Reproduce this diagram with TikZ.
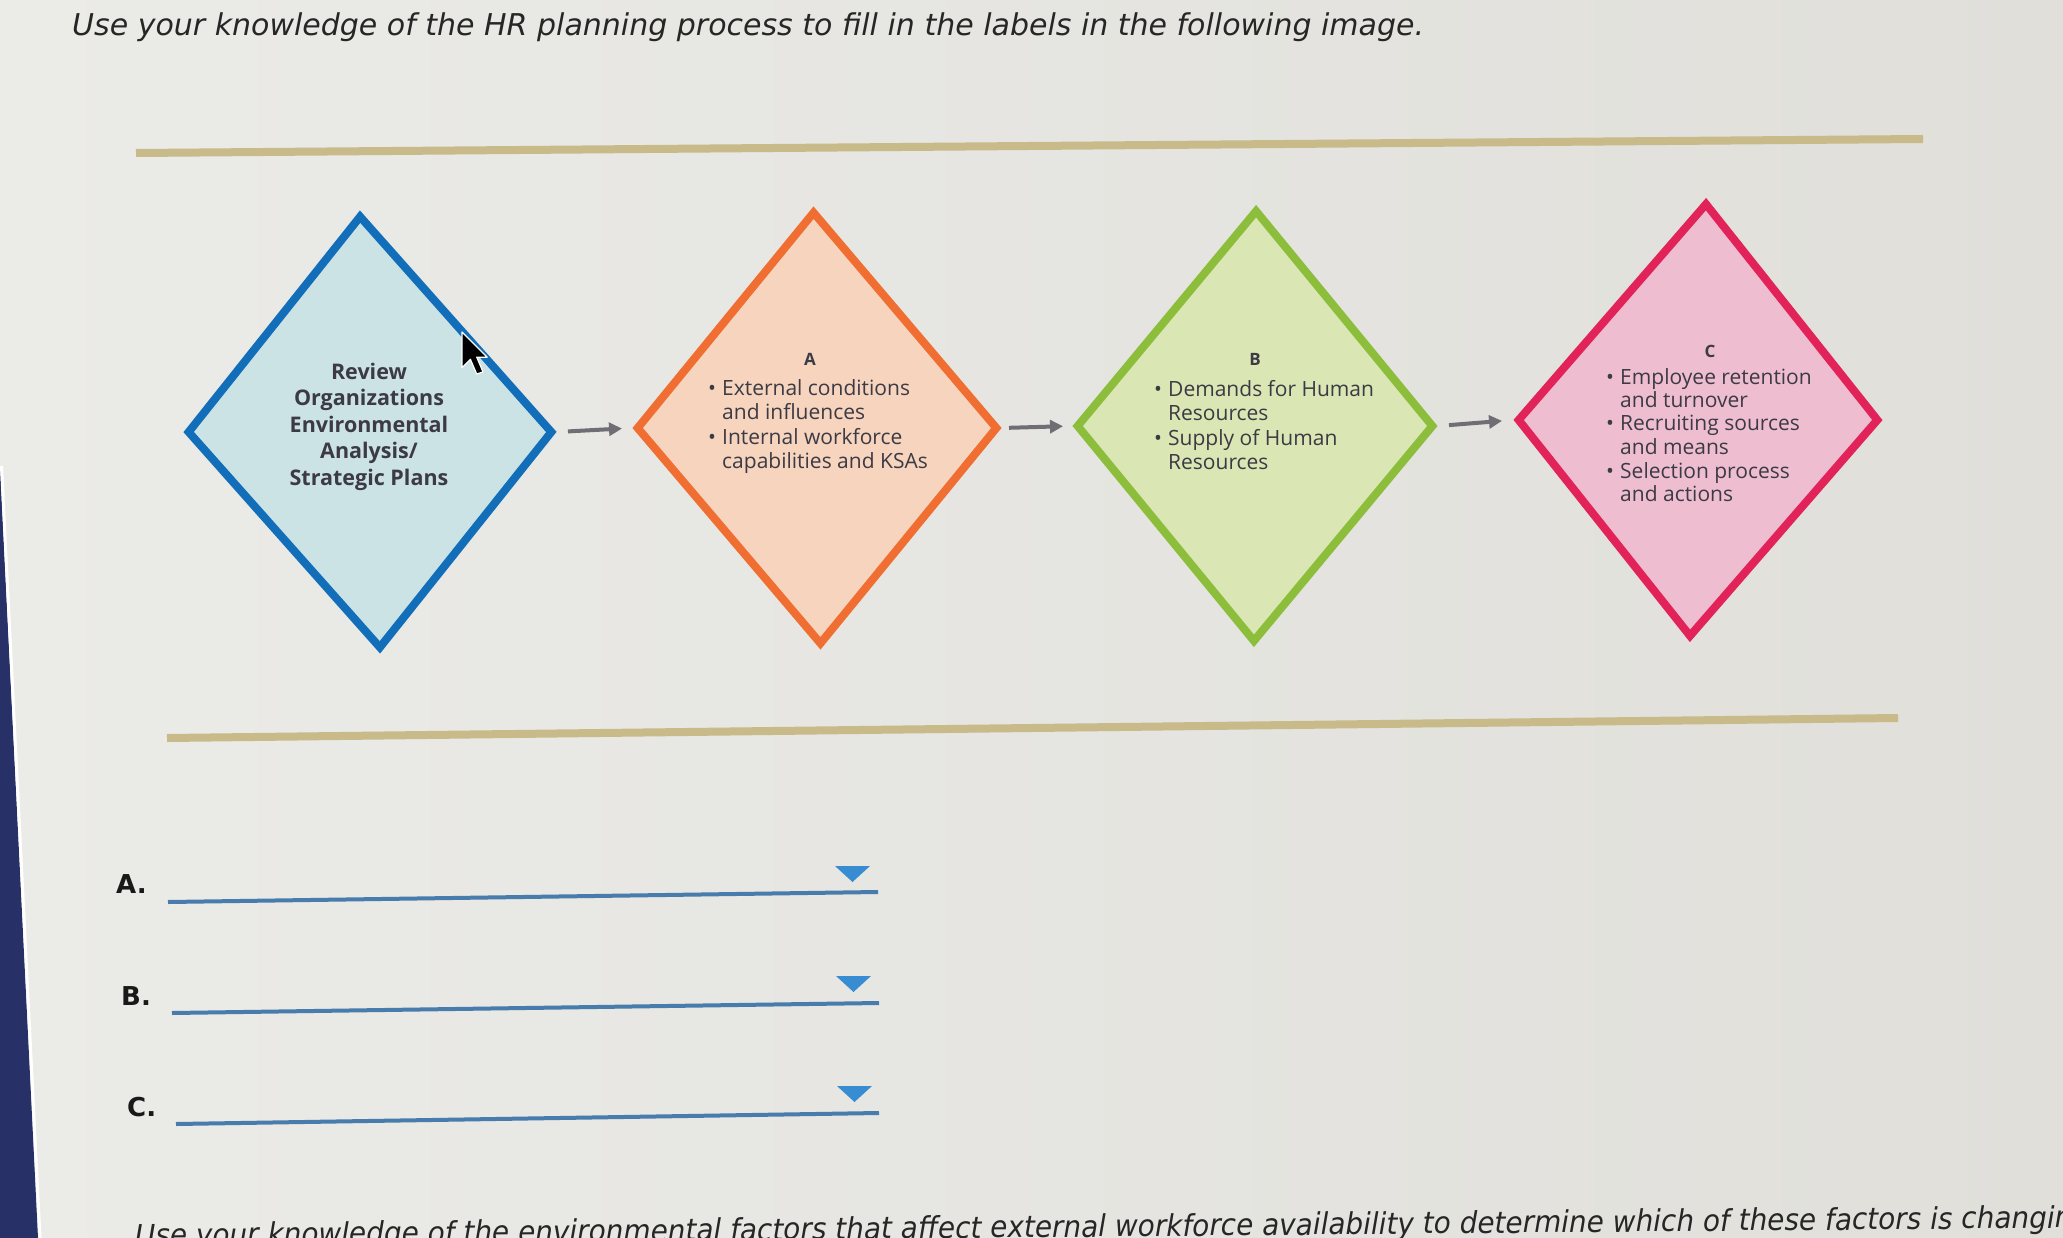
\documentclass[tikz,border=0pt]{standalone}
\usepackage{fontspec}
\newfontfamily\dvs{DejaVu Sans}[ItalicFont={DejaVu Sans Oblique},BoldFont={DejaVu Sans Bold}]
\newfontfamily\osans{Open Sans}
\usetikzlibrary{shapes.geometric,arrows.meta}
\definecolor{bgL}{RGB}{235,235,232}
\definecolor{bgR}{RGB}{224,223,218}
\definecolor{tanline}{RGB}{201,186,138}
\definecolor{bluS}{RGB}{18,110,185}
\definecolor{bluF}{RGB}{204,227,230}
\definecolor{orS}{RGB}{240,110,50}
\definecolor{orF}{RGB}{246,212,190}
\definecolor{grS}{RGB}{140,190,60}
\definecolor{grF}{RGB}{218,230,180}
\definecolor{pkS}{RGB}{225,35,90}
\definecolor{pkF}{RGB}{238,190,208}
\definecolor{txt}{RGB}{60,58,68}
\definecolor{arr}{RGB}{110,110,116}
\definecolor{uline}{RGB}{72,124,172}
\definecolor{tri}{RGB}{55,140,210}
\definecolor{navy}{RGB}{40,48,104}
\tikzset{
  hrbox/.style={diamond, inner sep=0pt, line width=8pt},
  flow/.style={draw=arr, line width=4pt, -{Triangle[length=13pt,width=13pt]}},
  listtxt/.style={anchor=base west, inner sep=0pt, text=txt,
    font=\osans\fontsize{21}{24.5}\selectfont},
  headtxt/.style={anchor=base, inner sep=0pt, text=txt,
    font=\osans\bfseries\fontsize{17}{20}\selectfont},
  qtxt/.style={anchor=base west, inner sep=0pt, text=black!85,
    font=\dvs\itshape\fontsize{30}{36}\selectfont},
  lbl/.style={anchor=base west, inner sep=0pt, text=black!90,
    font=\dvs\bfseries\fontsize{26}{30}\selectfont},
  blank/.style={draw=uline, line width=4pt},
  drop/.style={fill=tri},
  rule/.style={draw=tanline, line width=8pt}
}
\newcommand{\bul}{\makebox[14pt][l]{\textbullet}}
\newcommand{\ind}{\hspace*{14pt}}
\begin{document}
\begin{tikzpicture}[x=1pt,y=-1pt]
\useasboundingbox (0,0) rectangle (2063,1238);
\clip (0,0) rectangle (2063,1238);
\shade[left color=bgL, right color=bgR] (0,0) rectangle (2063,1238);
% monitor bezel
\fill[navy] (0,466) -- (38,1238) -- (0,1238) -- cycle;
\draw[white, line width=3pt] (1.5,466) -- (40,1238);

% question
\node[qtxt] (title) at (72,36) {Use your knowledge of the HR planning process to fill in the labels in the following image.};

% rules
\draw[rule] (136,153) -- (1923,139);
\draw[rule] (167,738) -- (1898,718);

% diamonds
\node[hrbox, draw=bluS, fill=bluF, minimum width=366pt, minimum height=434pt, xslant=-0.046] (rev) at (370,432) {};
\node[hrbox, draw=orS, fill=orF, minimum width=362pt, minimum height=434pt, xslant=-0.016] (sA) at (817,428) {};
\node[hrbox, draw=grS, fill=grF, minimum width=358pt, minimum height=433pt, xslant=0.005] (sB) at (1255,426) {};
\node[hrbox, draw=pkS, fill=pkF, minimum width=362pt, minimum height=435pt, xslant=0.037] (sC) at (1698,420) {};

% diamond texts
\node[anchor=base, inner sep=0pt, text=txt, font=\osans\bfseries\fontsize{21.5}{26.5}\selectfont] (revtxt) at (369,379)
  {\begin{tabular}[t]{@{}c@{}}Review\\Organizations\\Environmental\\Analysis/\\Strategic Plans\end{tabular}};

\node[headtxt] (hA) at (810,366) {A};
\node[listtxt] (lA) at (708,395)
  {\begin{tabular}[t]{@{}l@{}}\bul External conditions\\\ind and influences\\\bul Internal workforce\\\ind capabilities and KSAs\end{tabular}};

\node[headtxt] (hB) at (1255,366) {B};
\node[listtxt] (lB) at (1154,396)
  {\begin{tabular}[t]{@{}l@{}}\bul Demands for Human\\\ind Resources\\\bul Supply of Human\\\ind Resources\end{tabular}};

\node[headtxt] (hC) at (1710,358) {C};
\node[listtxt, font=\osans\fontsize{21}{23.5}\selectfont] (lC) at (1606,384)
  {\begin{tabular}[t]{@{}l@{}}\bul Employee retention\\\ind and turnover\\\bul Recruiting sources\\\ind and means\\\bul Selection process\\\ind and actions\end{tabular}};

% flow arrows
\draw[flow, shorten <=11pt, shorten >=10pt] (rev.east) -- (sA.west);
\draw[flow, shorten <=7pt, shorten >=9pt] (sA.east) -- (sB.west);
\draw[flow, shorten <=11pt, shorten >=11pt] (sB.east) -- (sC.west);

% mouse cursor
\begin{scope}[shift={(462,332)}, scale=2.1]
  \filldraw[fill=black, draw=white, line width=1.2pt, line join=round]
    (0,0) -- (0,17) -- (4,13) -- (7,20) -- (10,19) -- (7,12) -- (12,12) -- cycle;
\end{scope}

% answer blanks
\node[lbl] (la) at (116,893) {A.};
\node[lbl] (lb) at (121,1005) {B.};
\node[lbl] (lc) at (127,1116) {C.};
\draw[blank] (168,902) -- (878,892);
\draw[blank] (172,1013) -- (879,1003);
\draw[blank] (176,1124) -- (879,1113);
\fill[drop] (835,866) -- (870,866) -- (852.5,882) -- cycle;
\fill[drop] (836,976) -- (871,976) -- (853.5,992) -- cycle;
\fill[drop] (837,1086) -- (872,1086) -- (854.5,1102) -- cycle;

% next question (cut off by the photo's edge)
\node[qtxt, rotate=0.54, xscale=0.93] (next) at (135,1246) {Use your knowledge of the environmental factors that affect external workforce availability to determine which of these factors is changing};
\end{tikzpicture}
\end{document}
